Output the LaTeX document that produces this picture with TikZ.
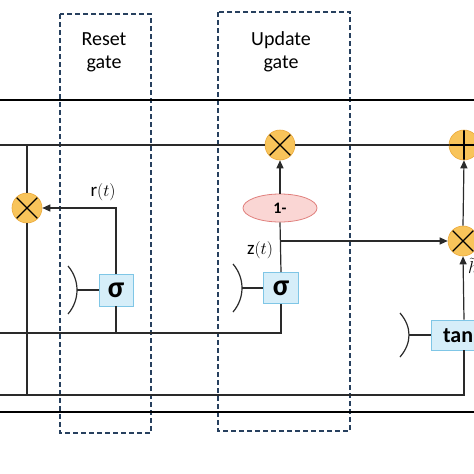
\documentclass[tikz,border=0pt]{standalone}
\usepackage{fontspec}
\setmainfont{Carlito}
\usetikzlibrary{arrows.meta,shapes.geometric}
\definecolor{gold}{HTML}{F8C45A}
\definecolor{goldrim}{HTML}{EBA93B}
\definecolor{sky}{HTML}{D6EEF9}
\definecolor{skyrim}{HTML}{7FC6E6}
\definecolor{blush}{HTML}{FAD6D4}
\definecolor{blushrim}{HTML}{E07F7C}
\definecolor{navy}{HTML}{27405E}
\definecolor{ink}{HTML}{2A2A2A}

\begin{document}
\begin{tikzpicture}[x=1pt, y=-1pt,
  rail/.style={line width=1.8pt, draw=black},
  wire/.style={line width=1.2pt, draw=ink},
  flow/.style={wire, -{Triangle[length=8pt, width=7pt]}},
  gatebox/.style={draw=navy, line width=1.3pt, dash pattern=on 5pt off 3pt},
  gatefn/.style={rectangle, fill=sky, draw=skyrim, line width=0.8pt, inner sep=0pt},
  mulop/.style={circle, fill=gold, draw=goldrim, line width=0.6pt, minimum size=30pt, inner sep=0pt,
    path picture={\draw[draw=black, line width=1.1pt] (path picture bounding box.north west) -- (path picture bounding box.south east)
      (path picture bounding box.north east) -- (path picture bounding box.south west);}},
  addop/.style={circle, fill=gold, draw=goldrim, line width=0.6pt, minimum size=30pt, inner sep=0pt,
    path picture={\draw[draw=black, line width=1.1pt] (path picture bounding box.north) -- (path picture bounding box.south)
      (path picture bounding box.west) -- (path picture bounding box.east);}}]
  \useasboundingbox (0,0) rectangle (474,474);
  \clip (0,0) rectangle (474,474);
  % gate frames
  \draw[gatebox] (60,14) rectangle (151,433);
  \draw[gatebox] (218,12) rectangle (350,431);
  \node[align=center, font=\fontsize{20}{23}\selectfont] (rtitle) at (104,52) {Reset\\gate};
  \node[align=center, font=\fontsize{20}{23}\selectfont] (utitle) at (281,52) {Update\\gate};
  % operators
  \node[mulop] (rmul) at (27,208) {};
  \node[mulop] (umul) at (280,145) {};
  \node[mulop] (hmul) at (463,241) {};
  \node[addop] (hadd) at (464,145) {};
  \node[gatefn, minimum width=34pt, minimum height=32pt, font=\fontsize{30}{30}\selectfont\bfseries] (rsig) at (116,290) {σ};
  \node[gatefn, minimum width=35pt, minimum height=31pt, font=\fontsize{30}{30}\selectfont\bfseries] (usig) at (281,288) {σ};
  \node[gatefn, minimum width=66pt, minimum height=30pt, font=\fontsize{22}{22}\selectfont\bfseries] (cand) at (464,335) {tanh};
  \node[ellipse, fill=blush, draw=blushrim, line width=0.8pt, minimum width=74pt, minimum height=28pt, inner sep=0pt,
        font=\fontsize{16}{16}\selectfont\bfseries] (onem) at (280,208) {1-};
  % rails and free ends
  \coordinate (cin) at (0,100);  \coordinate (cout) at (474,100);
  \coordinate (hin) at (0,145);  \coordinate (hout) at (474,145);
  \coordinate (xin) at (0,333);
  \coordinate (rin) at (0,395);
  \coordinate (bin) at (0,412);  \coordinate (bout) at (474,412);
  \coordinate (rtap) at (27,145);
  \coordinate (rdrop) at (27,395);
  \coordinate (zsplit) at (281,241);
  \draw[rail] (cin) -- (cout);
  \draw[rail] (bin) -- (bout);
  \draw[wire, line width=1.5pt] (hin) -- (umul) -- (hadd) -- (hout);
  % reset path
  \draw[wire] (rtap) -- (rmul.north);
  \draw[wire] (rmul.south) -- (rdrop);
  \draw[flow] (rsig.north) |- (rmul.east);
  \node[font=\fontsize{19}{19}\selectfont] (rlab) at (103,192) {$\mathrm{r}(t)$};
  \draw[wire] (xin) -| (rsig.south);
  \draw[wire] (xin) -| (usig.south);
  % update path
  \draw[wire] (usig.north) -- (onem.south);
  \draw[flow] (onem.north) -- (umul.south);
  \draw[flow] (zsplit) -- (hmul.west);
  \node[font=\fontsize{19}{19}\selectfont] (zlab) at (260,250) {$\mathrm{z}(t)$};
  % candidate path
  \draw[wire] (rin) -| (cand.south);
  \draw[flow] (cand.north) -- (hmul.south);
  \draw[flow] (hmul.north) -- (hadd.south);
  \node[font=\fontsize{18}{18}\selectfont, anchor=west, inner sep=0pt] (hlab) at (468,266) {$\tilde{h}$};
  % input brackets
  \draw[wire] (68,266) .. controls (80,280) and (80,300) .. (68,314);
  \coordinate (rcat) at (77,290);
  \draw[wire] (rcat) -- (rsig.west);
  \draw[wire] (233,264) .. controls (245,278) and (245,298) .. (233,312);
  \coordinate (ucat) at (242,288);
  \draw[wire] (ucat) -- (usig.west);
  \draw[wire] (400,313) .. controls (412,327) and (412,343) .. (400,357);
  \coordinate (ccat) at (409,335);
  \draw[wire] (ccat) -- (cand.west);
\end{tikzpicture}
\end{document}
